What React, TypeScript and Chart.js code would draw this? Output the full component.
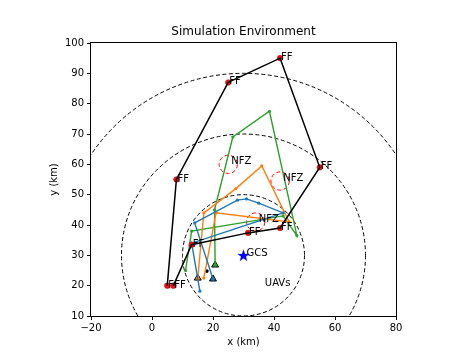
import React, { useEffect, useRef } from 'react';
import { Chart, registerables } from 'chart.js';
Chart.register(...registerables);

// ---- data (km) ----
const ffX = [7, 13, 31.5, 42, 55, 42, 25, 8, 5];
const ffY = [20, 33.5, 37.4, 39, 59, 95, 87, 55, 20];

const blueX = [20, 14, 28, 31, 35, 43, 13, 15.7];
const blueY = [22.2, 40.7, 48.2, 48.6, 47.2, 44, 34, 18.2];

const orangeX = [15, 17, 27.5, 36, 45, 21, 17];
const orangeY = [22.5, 44, 52, 59.5, 41, 44, 22.5];

const greenX = [20.7, 20.5, 26.5, 38.5, 47.5, 43, 13, 11];
const greenY = [26.8, 45, 69, 77.5, 36.5, 43, 38, 25];

const markX = [18];
const markY = [24.8];

const gcsX = 30;
const gcsY = 30;
const rangeRadii = [20, 40, 60];

const nfzX = [25, 42, 34];
const nfzY = [60, 54.5, 41];
const nfzR = 3;

const xMin = -20, xMax = 80, xStep = 20;
const yMin = 10, yMax = 100, yStep = 10;

const titleText = 'Simulation Environment';
const xLabel = 'x (km)';
const yLabel = 'y (km)';

const pts = (xs: number[], ys: number[]) => xs.map((v, i) => ({ x: v, y: ys[i] }));

const FONT = '"DejaVu Sans", sans-serif';

function makeStar(size: number, color: string) {
  const c = document.createElement('canvas');
  c.width = size; c.height = size;
  const g = c.getContext('2d')!;
  const cx = size / 2, cy = size / 2 + 0.5;
  const R = size / 2, r = R * 0.4;
  g.beginPath();
  for (let i = 0; i < 10; i++) {
    const ang = -Math.PI / 2 + (i * Math.PI) / 5;
    const rad = i % 2 === 0 ? R : r;
    const px = cx + rad * Math.cos(ang), py = cy + rad * Math.sin(ang);
    if (i === 0) g.moveTo(px, py); else g.lineTo(px, py);
  }
  g.closePath();
  g.fillStyle = color;
  g.fill();
  return c;
}

const overlay = {
  id: 'overlay',
  beforeDatasetsDraw(chart: any) {
    const { ctx, chartArea: a, scales } = chart;
    const x = scales.x, y = scales.y;
    ctx.save();
    ctx.beginPath();
    ctx.rect(a.left, a.top, a.right - a.left, a.bottom - a.top);
    ctx.clip();
    const ell = (cx: number, cy: number, r: number, color: string) => {
      const px = x.getPixelForValue(cx), py = y.getPixelForValue(cy);
      const rx = Math.abs(x.getPixelForValue(cx + r) - px);
      const ry = Math.abs(y.getPixelForValue(cy + r) - py);
      ctx.beginPath();
      ctx.ellipse(px, py, rx, ry, 0, 0, Math.PI * 2);
      ctx.strokeStyle = color;
      ctx.stroke();
    };
    ctx.lineWidth = 1;
    ctx.setLineDash([4, 2.5]);
    rangeRadii.forEach((r) => ell(gcsX, gcsY, r, '#000'));
    nfzX.forEach((cx, i) => ell(cx, nfzY[i], nfzR, '#ff0000'));
    ctx.restore();
  },
  afterDatasetsDraw(chart: any) {
    const { ctx, chartArea: a, scales } = chart;
    const x = scales.x, y = scales.y;
    ctx.save();
    ctx.fillStyle = '#000';
    ctx.font = '10px ' + FONT;
    ctx.textAlign = 'left';
    ctx.textBaseline = 'alphabetic';
    ffX.forEach((v, i) => {
      ctx.fillText('FF', x.getPixelForValue(v) + 1, y.getPixelForValue(ffY[i]) + 2);
    });
    nfzX.forEach((v, i) => {
      ctx.fillText('NFZ', x.getPixelForValue(v + 1), y.getPixelForValue(nfzY[i]));
    });
    ctx.fillText('GCS', x.getPixelForValue(gcsX + 1), y.getPixelForValue(gcsY) + 1);
    ctx.fillText('UAVs', x.getPixelForValue(37), y.getPixelForValue(20));

    // frame
    ctx.strokeStyle = '#000';
    ctx.lineWidth = 1;
    ctx.strokeRect(Math.round(a.left) - 0.5, Math.round(a.top) - 0.5, Math.round(a.right - a.left) + 1, Math.round(a.bottom - a.top) + 1);

    // title and axis labels
    const cxp = (a.left + a.right) / 2;
    ctx.font = '12px ' + FONT;
    ctx.textAlign = 'center';
    ctx.textBaseline = 'middle';
    ctx.fillText(titleText, cxp, 32);
    ctx.font = '10px ' + FONT;
    ctx.fillText(xLabel, cxp, 342);
    ctx.translate(54, (a.top + a.bottom) / 2);
    ctx.rotate(-Math.PI / 2);
    ctx.fillText(yLabel, 0, 0);
    ctx.restore();
  },
};

const lineDs = (label: string, data: any[], color: string, width = 1.4, r = 1.6) => ({
  label,
  data,
  showLine: true,
  borderColor: color,
  backgroundColor: color,
  borderWidth: width,
  pointRadius: r,
  pointBackgroundColor: color,
  pointBorderColor: color,
  pointBorderWidth: 0,
  tension: 0,
});

export default function App() {
  const ref = useRef<HTMLCanvasElement>(null);
  useEffect(() => {
    const star = makeStar(13, '#0000ff');
    const chart = new Chart(ref.current!, {
      type: 'scatter',
      data: {
        datasets: [
          lineDs('FF route', pts(ffX, ffY), '#000', 1.5, 0) as any,
          {
            label: 'FF',
            data: pts(ffX, ffY),
            showLine: false,
            pointRadius: 2.8,
            pointBackgroundColor: '#ee1010',
            pointBorderColor: '#d00000',
            pointBorderWidth: 0.5,
          },
          lineDs('UAV1', pts(blueX, blueY), '#1f77b4'),
          lineDs('UAV2', pts(orangeX, orangeY), '#ff7f0e'),
          lineDs('UAV3', pts(greenX, greenY), '#2ca02c'),
          {
            label: 'starts',
            data: [
              { x: blueX[0], y: blueY[0] },
              { x: orangeX[0], y: orangeY[0] },
              { x: greenX[0], y: greenY[0] },
            ],
            showLine: false,
            pointStyle: 'triangle',
            pointRadius: 4,
            pointBackgroundColor: ['#1f77b4', '#ff7f0e', '#2ca02c'],
            pointBorderColor: '#000',
            pointBorderWidth: 1,
          },
          {
            label: 'mark',
            data: pts(markX, markY),
            showLine: false,
            pointStyle: 'rect',
            pointRadius: 1.6,
            pointBackgroundColor: '#000',
            pointBorderColor: '#000',
          },
          {
            label: 'GCS',
            data: [{ x: gcsX, y: gcsY }],
            showLine: false,
            pointStyle: star as any,
            pointRadius: 7,
          },
        ],
      },
      options: {
        animation: false,
        responsive: false,
        events: [],
        layout: { padding: { top: 43, right: 78, left: 0, bottom: 0 } },
        plugins: { legend: { display: false }, title: { display: false }, tooltip: { enabled: false } },
        scales: {
          x: {
            type: 'linear',
            min: xMin,
            max: xMax,
            afterFit: (s: any) => { s.height = 39; },
            border: { display: false },
            grid: { display: true, drawOnChartArea: false, drawTicks: true, tickLength: 4, color: '#000' },
            ticks: {
              stepSize: xStep,
              padding: 2,
              color: '#000',
              font: { family: FONT, size: 10 },
              maxRotation: 0,
              callback: (v: any) => (v < 0 ? '\u2212' + Math.abs(v) : String(v)),
            },
          },
          y: {
            type: 'linear',
            min: yMin,
            max: yMax,
            afterFit: (s: any) => { s.width = 91; },
            border: { display: false },
            grid: { display: true, drawOnChartArea: false, drawTicks: true, tickLength: 4, color: '#000' },
            ticks: {
              stepSize: yStep,
              padding: 3,
              color: '#000',
              font: { family: FONT, size: 10 },
            },
          },
        },
      },
      plugins: [overlay],
    });
    return () => chart.destroy();
  }, []);
  return (
    <div style={{ position: 'fixed', left: 0, top: 0, width: 474, height: 355, background: '#fff' }}>
      <canvas ref={ref} width={474} height={355} />
    </div>
  );
}
